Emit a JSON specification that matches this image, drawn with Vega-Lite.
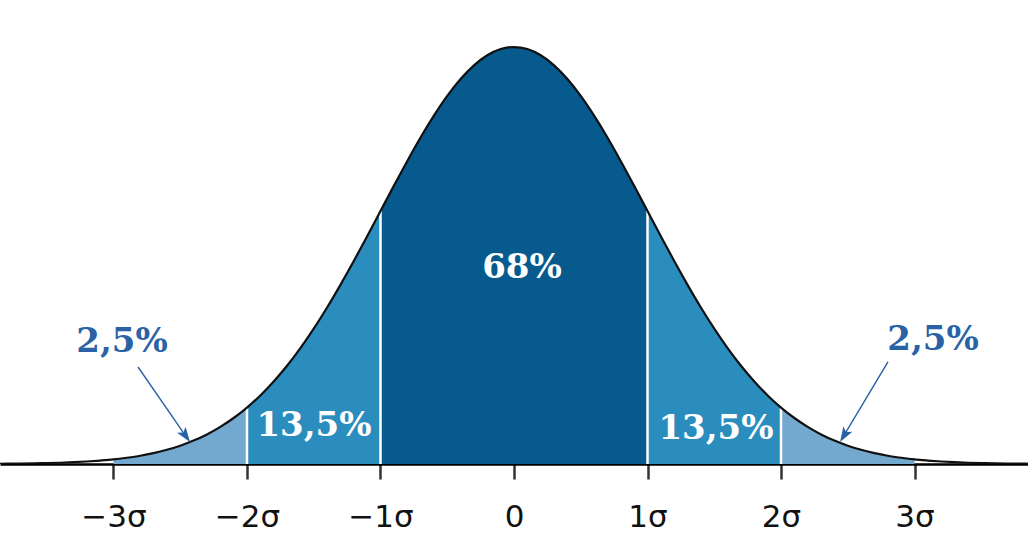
{
  "$schema": "https://vega.github.io/schema/vega-lite/v6.json",
  "width": 1028,
  "height": 464,
  "autosize": "none",
  "padding": {"left": 0, "top": 0, "right": 0, "bottom": 91},
  "background": "white",
  "config": {"view": {"stroke": null}},
  "datasets": {
    "curve": [
      {"x": -3.9, "y": 0.0002}, {"x": -3.8, "y": 0.0003}, {"x": -3.7, "y": 0.0004}, {"x": -3.6, "y": 0.0006},
      {"x": -3.5, "y": 0.0009}, {"x": -3.4, "y": 0.0012}, {"x": -3.3, "y": 0.0017}, {"x": -3.2, "y": 0.0024},
      {"x": -3.1, "y": 0.0033}, {"x": -3.0, "y": 0.0044}, {"x": -2.9, "y": 0.0060}, {"x": -2.8, "y": 0.0079},
      {"x": -2.7, "y": 0.0104}, {"x": -2.6, "y": 0.0136}, {"x": -2.5, "y": 0.0175}, {"x": -2.4, "y": 0.0224},
      {"x": -2.3, "y": 0.0283}, {"x": -2.2, "y": 0.0355}, {"x": -2.1, "y": 0.0440}, {"x": -2.0, "y": 0.0540},
      {"x": -1.9, "y": 0.0656}, {"x": -1.8, "y": 0.0790}, {"x": -1.7, "y": 0.0940}, {"x": -1.6, "y": 0.1109},
      {"x": -1.5, "y": 0.1295}, {"x": -1.4, "y": 0.1497}, {"x": -1.3, "y": 0.1714}, {"x": -1.2, "y": 0.1942},
      {"x": -1.1, "y": 0.2179}, {"x": -1.0, "y": 0.2420}, {"x": -0.9, "y": 0.2661}, {"x": -0.8, "y": 0.2897},
      {"x": -0.7, "y": 0.3123}, {"x": -0.6, "y": 0.3332}, {"x": -0.5, "y": 0.3521}, {"x": -0.4, "y": 0.3683},
      {"x": -0.3, "y": 0.3814}, {"x": -0.2, "y": 0.3910}, {"x": -0.1, "y": 0.3970}, {"x": 0.0, "y": 0.3989},
      {"x": 0.1, "y": 0.3970}, {"x": 0.2, "y": 0.3910}, {"x": 0.3, "y": 0.3814}, {"x": 0.4, "y": 0.3683},
      {"x": 0.5, "y": 0.3521}, {"x": 0.6, "y": 0.3332}, {"x": 0.7, "y": 0.3123}, {"x": 0.8, "y": 0.2897},
      {"x": 0.9, "y": 0.2661}, {"x": 1.0, "y": 0.2420}, {"x": 1.1, "y": 0.2179}, {"x": 1.2, "y": 0.1942},
      {"x": 1.3, "y": 0.1714}, {"x": 1.4, "y": 0.1497}, {"x": 1.5, "y": 0.1295}, {"x": 1.6, "y": 0.1109},
      {"x": 1.7, "y": 0.0940}, {"x": 1.8, "y": 0.0790}, {"x": 1.9, "y": 0.0656}, {"x": 2.0, "y": 0.0540},
      {"x": 2.1, "y": 0.0440}, {"x": 2.2, "y": 0.0355}, {"x": 2.3, "y": 0.0283}, {"x": 2.4, "y": 0.0224},
      {"x": 2.5, "y": 0.0175}, {"x": 2.6, "y": 0.0136}, {"x": 2.7, "y": 0.0104}, {"x": 2.8, "y": 0.0079},
      {"x": 2.9, "y": 0.0060}, {"x": 3.0, "y": 0.0044}, {"x": 3.1, "y": 0.0033}, {"x": 3.2, "y": 0.0024},
      {"x": 3.3, "y": 0.0017}, {"x": 3.4, "y": 0.0012}, {"x": 3.5, "y": 0.0009}, {"x": 3.6, "y": 0.0006},
      {"x": 3.7, "y": 0.0004}, {"x": 3.8, "y": 0.0003}, {"x": 3.9, "y": 0.0002}
    ]
  },
  "data": {"name": "curve"},
  "encoding": {
    "x": {
      "field": "x", "type": "quantitative",
      "scale": {"domain": [-3.85, 3.85], "nice": false, "zero": false},
      "axis": {
        "values": [-3, -2, -1, 0, 1, 2, 3],
        "labelExpr": "datum.value === 0 ? '0' : (datum.value < 0 ? '−' + (-datum.value) : '' + datum.value) + 'σ'",
        "title": null, "grid": false,
        "domainColor": "#000", "domainWidth": 2.5,
        "tickColor": "#333", "tickWidth": 2.5, "tickSize": 15,
        "labelFont": "DejaVu Sans", "labelFontSize": 31, "labelColor": "#111",
        "labelPadding": 23, "labelFlush": false, "labelOverlap": false
      }
    },
    "y": {
      "field": "y", "type": "quantitative",
      "scale": {"domain": [0, 0.4439], "nice": false},
      "axis": null
    }
  },
  "layer": [
    {"transform": [{"filter": "datum.x >= -3 && datum.x <= -2"}], "mark": {"type": "area", "interpolate": "monotone", "color": "#74a9cf", "opacity": 1}},
    {"transform": [{"filter": "datum.x >= -2 && datum.x <= -1"}], "mark": {"type": "area", "interpolate": "monotone", "color": "#2b8cbe", "opacity": 1}},
    {"transform": [{"filter": "datum.x >= -1 && datum.x <= 1"}], "mark": {"type": "area", "interpolate": "monotone", "color": "#065a8e", "opacity": 1}},
    {"transform": [{"filter": "datum.x >= 1 && datum.x <= 2"}], "mark": {"type": "area", "interpolate": "monotone", "color": "#2b8cbe", "opacity": 1}},
    {"transform": [{"filter": "datum.x >= 2 && datum.x <= 3"}], "mark": {"type": "area", "interpolate": "monotone", "color": "#74a9cf", "opacity": 1}},
    {
      "data": {"values": [{"x": -2, "y": 0.054}, {"x": -1, "y": 0.242}, {"x": 1, "y": 0.242}, {"x": 2, "y": 0.054}]},
      "mark": {"type": "rule", "color": "white", "strokeWidth": 2.5},
      "encoding": {"y2": {"datum": 0}}
    },
    {"mark": {"type": "line", "interpolate": "monotone", "color": "#111", "strokeWidth": 2.2, "clip": true}},
    {
      "data": {"values": [
        {"x": -2.816, "y": 0.0928, "x2": -2.461, "y2": 0.0272},
        {"x": 2.801, "y": 0.0976, "x2": 2.473, "y2": 0.0276}
      ]},
      "mark": {"type": "rule", "color": "#2a62a6", "strokeWidth": 1.4},
      "encoding": {"x2": {"field": "x2"}, "y2": {"field": "y2"}}
    },
    {
      "data": {"values": [{"x": -2.461, "y": 0.0272}]},
      "mark": {"type": "point", "shape": "M0,-1L0.65,0.9L0,0.45L-0.65,0.9Z", "size": 256, "filled": true, "opacity": 1, "color": "#2a62a6", "strokeWidth": 0, "angle": 145}
    },
    {
      "data": {"values": [{"x": 2.473, "y": 0.0276}]},
      "mark": {"type": "point", "shape": "M0,-1L0.65,0.9L0,0.45L-0.65,0.9Z", "size": 256, "filled": true, "opacity": 1, "color": "#2a62a6", "strokeWidth": 0, "angle": 211}
    },
    {
      "data": {"values": [
        {"x": 0.06, "y": 0.1875, "label": "68%", "kind": "inside"},
        {"x": -1.498, "y": 0.0364, "label": "13,5%", "kind": "inside"},
        {"x": 1.513, "y": 0.0335, "label": "13,5%", "kind": "inside"},
        {"x": -2.936, "y": 0.1167, "label": "2,5%", "kind": "callout"},
        {"x": 3.139, "y": 0.1186, "label": "2,5%", "kind": "callout"}
      ]},
      "mark": {"type": "text", "font": "DejaVu Serif", "fontWeight": "bold", "fontSize": 34, "align": "center", "baseline": "middle"},
      "encoding": {
        "text": {"field": "label"},
        "color": {"field": "kind", "type": "nominal", "scale": {"domain": ["inside", "callout"], "range": ["#ffffff", "#2a62a6"]}, "legend": null}
      }
    }
  ]
}
